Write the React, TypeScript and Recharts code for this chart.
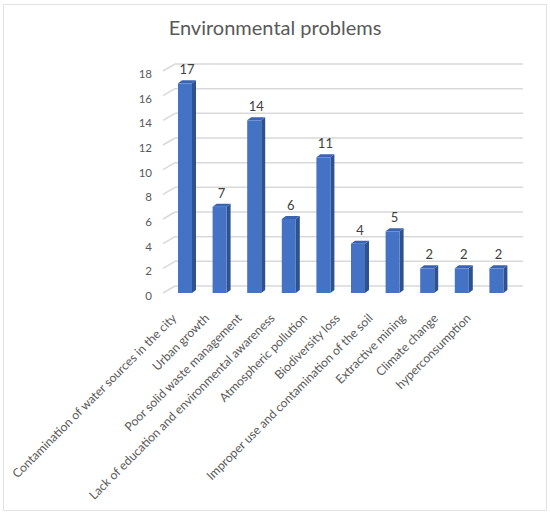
import { BarChart, Bar, XAxis, YAxis, CartesianGrid, LabelList } from 'recharts'

const categories = [
  'Contamination of water sources in the city',
  'Urban growth',
  'Poor solid waste management',
  'Lack of education and environmental awareness',
  'Atmospheric pollution',
  'Biodiversity loss',
  'Improper use and contamination of the soil',
  'Extractive mining',
  'Climate change',
  'hyperconsumption',
]
const counts = [17, 7, 14, 6, 11, 4, 5, 2, 2, 2]
const yTicks = [0, 2, 4, 6, 8, 10, 12, 14, 16, 18]

const data = categories.map((name, i) => ({ name, value: counts[i] }))

const FONT = 'Lato, "Open Sans", sans-serif'
const FRONT = '#4472C4'
const SIDE = '#2F528F'
const TOP = '#3A63B0'

// fake 3D column: front face, dark side, lighter top
function Column3D({ x, y, width, height }: any) {
  const d = 4
  const dy = 3
  return (
    <g>
      <polygon
        points={`${x + width},${y} ${x + width + d},${y - dy} ${x + width + d},${y + height - dy} ${x + width},${y + height}`}
        fill={SIDE}
      />
      <polygon
        points={`${x},${y} ${x + d},${y - dy} ${x + width + d},${y - dy} ${x + width},${y}`}
        fill={TOP}
      />
      <rect x={x} y={y} width={width} height={height} fill={FRONT} />
    </g>
  )
}

function GridLine(props: any) {
  const { x1, x2, y1 } = props
  return (
    <g key={`grid-${y1}`}>
      <line x1={x1 - 5} y1={y1} x2={x1 + 7} y2={y1 - 7} stroke="#D9D9D9" strokeWidth={1.5} />
      <line x1={x1 + 7} y1={y1 - 7} x2={x2 + 9} y2={y1 - 7} stroke="#D9D9D9" strokeWidth={1.5} />
    </g>
  )
}

function XTick({ x, y, payload, index }: any) {
  const tx = x - 8 - index * 1.9
  const ty = y + 26
  return (
    <text
      x={tx}
      y={ty}
      transform={`rotate(-45, ${tx}, ${ty})`}
      textAnchor="end"
      fontSize={12.2}
      fontFamily={FONT}
      fill="#595959"
    >
      {payload.value}
    </text>
  )
}

function YTick({ x, y, payload }: any) {
  return (
    <text x={x} y={y + 7} textAnchor="end" fontSize={11.5} fontFamily={FONT} fill="#595959">
      {payload.value}
    </text>
  )
}

function ValueLabel({ x, y, width, value }: any) {
  return (
    <text x={x + width / 2 + 2} y={y - 9} textAnchor="middle" fontSize={13} fontFamily={FONT} fill="#404040">
      {value}
    </text>
  )
}

export default function App() {
  return (
    <div style={{ position: 'absolute', left: 0, top: 0, width: 550, height: 517, background: '#fff' }}>
      <div
        style={{
          position: 'absolute',
          left: 3,
          top: 4,
          width: 542,
          height: 505,
          border: '1px solid #E3E3E3',
        }}
      />
      <div
        style={{
          position: 'absolute',
          left: 4,
          top: 18,
          width: 542,
          textAlign: 'center',
          fontFamily: FONT,
          fontSize: 20,
          lineHeight: '19px',
          color: '#595959',
        }}
      >
        Environmental problems
      </div>
      <BarChart
        width={550}
        height={517}
        data={data}
        margin={{ top: 71, right: 36, left: 128, bottom: 24 }}
        style={{ position: 'absolute', left: 0, top: 0 }}
      >
        <CartesianGrid vertical={false} horizontal={GridLine} />
        <XAxis
          dataKey="name"
          interval={0}
          height={200}
          axisLine={false}
          tickLine={false}
          tickSize={0}
          tickMargin={0}
          tick={XTick}
        />
        <YAxis
          domain={[0, 18]}
          ticks={yTicks}
          width={40}
          axisLine={false}
          tickLine={false}
          tickSize={0}
          tickMargin={16}
          tick={YTick}
        />
        <Bar dataKey="value" barSize={14} shape={Column3D} isAnimationActive={false}>
          <LabelList dataKey="value" content={ValueLabel} />
        </Bar>
      </BarChart>
    </div>
  )
}
